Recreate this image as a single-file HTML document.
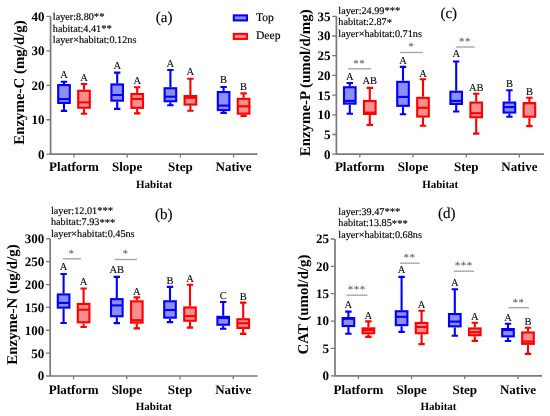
<!DOCTYPE html>
<html><head><meta charset="utf-8"><style>
html,body{margin:0;padding:0;background:#fff;}
svg{display:block;filter:blur(0.35px);}
.rg{stroke:#000;stroke-width:0.15px;}
.rl{stroke:#000;stroke-width:0.06px;}
</style></head><body>
<svg width="550" height="416" viewBox="0 0 550 416" font-family="'Liberation Serif', serif" fill="#000" text-rendering="geometricPrecision">
<rect width="550" height="416" fill="#fff"/>
<path d="M50.6 16.4V154.2H257.5" fill="none" stroke="#7a7a7a" stroke-width="1.7"/>
<text x="44.6" y="158.6" text-anchor="end" font-size="13" font-weight="bold">0</text>
<text x="44.6" y="124.15" text-anchor="end" font-size="13" font-weight="bold">10</text>
<text x="44.6" y="89.7" text-anchor="end" font-size="13" font-weight="bold">20</text>
<text x="44.6" y="55.25" text-anchor="end" font-size="13" font-weight="bold">30</text>
<text x="44.6" y="20.8" text-anchor="end" font-size="13" font-weight="bold">40</text>
<path d="M46.4 154.2H50.6M46.4 119.75H50.6M46.4 85.3H50.6M46.4 50.85H50.6M46.4 16.4H50.6M74 154.2v3.2M127.2 154.2v3.2M180.4 154.2v3.2M233.6 154.2v3.2" fill="none" stroke="#7a7a7a" stroke-width="1.3"/>
<text x="74" y="171.2" text-anchor="middle" font-size="13" font-weight="bold">Platform</text>
<text x="127.2" y="171.2" text-anchor="middle" font-size="13" font-weight="bold">Slope</text>
<text x="180.4" y="171.2" text-anchor="middle" font-size="13" font-weight="bold">Step</text>
<text x="233.6" y="171.2" text-anchor="middle" font-size="13" font-weight="bold">Native</text>
<text x="154.05" y="187.6" text-anchor="middle" font-size="11" font-weight="bold">Habitat</text>
<text transform="translate(24 82.5) rotate(-90)" text-anchor="middle" font-size="14.9" font-weight="bold">Enzyme-C (mg/d/g)</text>
<text x="52.8" y="20" font-size="10.2" class="rg">layer:8.80<tspan font-size="10.7" dy="0.2">**</tspan></text>
<text x="52.8" y="31.6" font-size="10.2" class="rg">habitat:4.41<tspan font-size="10.7" dy="0.2">**</tspan></text>
<text x="52.8" y="43.2" font-size="10.2" class="rg">layer×habitat:0.12ns</text>
<text x="155.8" y="22" font-size="15" class="rg">(a)</text>
<path d="M64 81.8V84M64 104V110.9M60.8 81.8H67.2M60.8 110.9H67.2" stroke="#0000ff" stroke-width="2.1" fill="none"/>
<rect x="58.2" y="85.05" width="11.6" height="17.9" fill="#8e8ef8" stroke="#0000ff" stroke-width="2.1"/>
<path d="M58.2 99.1H69.8" stroke="#0000ff" stroke-width="2.1"/>
<text x="64" y="77.9" text-anchor="middle" font-size="10.5" class="rl">A</text>
<path d="M84 84V89.7M84 108.8V113.8M80.8 84H87.2M80.8 113.8H87.2" stroke="#ff0000" stroke-width="2.1" fill="none"/>
<rect x="78.2" y="90.75" width="11.6" height="17" fill="#f88e8e" stroke="#ff0000" stroke-width="2.1"/>
<path d="M78.2 102.4H89.8" stroke="#ff0000" stroke-width="2.1"/>
<text x="84" y="81.1" text-anchor="middle" font-size="10.5" class="rl">A</text>
<path d="M117.2 72.6V83.4M117.2 101.7V108.9M114 72.6H120.4M114 108.9H120.4" stroke="#0000ff" stroke-width="2.1" fill="none"/>
<rect x="111.4" y="84.45" width="11.6" height="16.2" fill="#8e8ef8" stroke="#0000ff" stroke-width="2.1"/>
<path d="M111.4 95H123" stroke="#0000ff" stroke-width="2.1"/>
<text x="117.2" y="68.8" text-anchor="middle" font-size="10.5" class="rl">A</text>
<path d="M137.2 87.2V93M137.2 108.9V113.4M134 87.2H140.4M134 113.4H140.4" stroke="#ff0000" stroke-width="2.1" fill="none"/>
<rect x="131.4" y="94.05" width="11.6" height="13.8" fill="#f88e8e" stroke="#ff0000" stroke-width="2.1"/>
<path d="M131.4 99H143" stroke="#ff0000" stroke-width="2.1"/>
<text x="137.2" y="83.8" text-anchor="middle" font-size="10.5" class="rl">A</text>
<path d="M170.4 70V87.2M170.4 102.3V105.3M167.2 70H173.6M167.2 105.3H173.6" stroke="#0000ff" stroke-width="2.1" fill="none"/>
<rect x="164.6" y="88.25" width="11.6" height="13" fill="#8e8ef8" stroke="#0000ff" stroke-width="2.1"/>
<path d="M164.6 96.7H176.2" stroke="#0000ff" stroke-width="2.1"/>
<text x="170.4" y="66.6" text-anchor="middle" font-size="10.5" class="rl">A</text>
<path d="M190.4 78.8V95M190.4 105.6V110.7M187.2 78.8H193.6M187.2 110.7H193.6" stroke="#ff0000" stroke-width="2.1" fill="none"/>
<rect x="184.6" y="96.05" width="11.6" height="8.5" fill="#f88e8e" stroke="#ff0000" stroke-width="2.1"/>
<path d="M184.6 97.8H196.2" stroke="#ff0000" stroke-width="2.1"/>
<text x="190.4" y="75.4" text-anchor="middle" font-size="10.5" class="rl">A</text>
<path d="M223.6 87V91M223.6 111.1V112.9M220.4 87H226.8M220.4 112.9H226.8" stroke="#0000ff" stroke-width="2.1" fill="none"/>
<rect x="217.8" y="92.05" width="11.6" height="18" fill="#8e8ef8" stroke="#0000ff" stroke-width="2.1"/>
<path d="M217.8 105.6H229.4" stroke="#0000ff" stroke-width="2.1"/>
<text x="223.6" y="83.4" text-anchor="middle" font-size="10.5" class="rl">B</text>
<path d="M243.6 93.4V97.8M243.6 114.7V115.9M240.4 93.4H246.8M240.4 115.9H246.8" stroke="#ff0000" stroke-width="2.1" fill="none"/>
<rect x="237.8" y="98.85" width="11.6" height="14.8" fill="#f88e8e" stroke="#ff0000" stroke-width="2.1"/>
<path d="M237.8 106.3H249.4" stroke="#ff0000" stroke-width="2.1"/>
<text x="243.6" y="89.7" text-anchor="middle" font-size="10.5" class="rl">B</text>
<path d="M50.2 238.8V376H257.5" fill="none" stroke="#7a7a7a" stroke-width="1.7"/>
<text x="44.2" y="380.4" text-anchor="end" font-size="13" font-weight="bold">0</text>
<text x="44.2" y="357.53" text-anchor="end" font-size="13" font-weight="bold">50</text>
<text x="44.2" y="334.67" text-anchor="end" font-size="13" font-weight="bold">100</text>
<text x="44.2" y="311.8" text-anchor="end" font-size="13" font-weight="bold">150</text>
<text x="44.2" y="288.93" text-anchor="end" font-size="13" font-weight="bold">200</text>
<text x="44.2" y="266.07" text-anchor="end" font-size="13" font-weight="bold">250</text>
<text x="44.2" y="243.2" text-anchor="end" font-size="13" font-weight="bold">300</text>
<path d="M46 376H50.2M46 353.13H50.2M46 330.27H50.2M46 307.4H50.2M46 284.53H50.2M46 261.67H50.2M46 238.8H50.2M73.6 376v3.2M126.8 376v3.2M180 376v3.2M233.2 376v3.2" fill="none" stroke="#7a7a7a" stroke-width="1.3"/>
<text x="73.6" y="393.6" text-anchor="middle" font-size="13" font-weight="bold">Platform</text>
<text x="126.8" y="393.6" text-anchor="middle" font-size="13" font-weight="bold">Slope</text>
<text x="180" y="393.6" text-anchor="middle" font-size="13" font-weight="bold">Step</text>
<text x="233.2" y="393.6" text-anchor="middle" font-size="13" font-weight="bold">Native</text>
<text x="153.85" y="409.5" text-anchor="middle" font-size="11" font-weight="bold">Habitat</text>
<text transform="translate(17.2 304.5) rotate(-90)" text-anchor="middle" font-size="14.9" font-weight="bold">Enzyme-N (ug/d/g)</text>
<text x="51" y="213.8" font-size="10.2" class="rg">layer:12.01<tspan font-size="10.7" dy="0.2">***</tspan></text>
<text x="51" y="225.4" font-size="10.2" class="rg">habitat:7.93<tspan font-size="10.7" dy="0.2">***</tspan></text>
<text x="51" y="237" font-size="10.2" class="rg">layer×habitat:0.45ns</text>
<text x="155" y="218.6" font-size="15" class="rg">(b)</text>
<path d="M63.6 274V293.4M63.6 308.7V323M60.4 274H66.8M60.4 323H66.8" stroke="#0000ff" stroke-width="2.1" fill="none"/>
<rect x="57.8" y="294.45" width="11.6" height="13.2" fill="#8e8ef8" stroke="#0000ff" stroke-width="2.1"/>
<path d="M57.8 302.9H69.4" stroke="#0000ff" stroke-width="2.1"/>
<text x="63.6" y="270" text-anchor="middle" font-size="10.5" class="rl">A</text>
<path d="M83.6 288.5V302.9M83.6 323.4V327M80.4 288.5H86.8M80.4 327H86.8" stroke="#ff0000" stroke-width="2.1" fill="none"/>
<rect x="77.8" y="303.95" width="11.6" height="18.4" fill="#f88e8e" stroke="#ff0000" stroke-width="2.1"/>
<path d="M77.8 309.7H89.4" stroke="#ff0000" stroke-width="2.1"/>
<text x="83.6" y="285.1" text-anchor="middle" font-size="10.5" class="rl">A</text>
<path d="M116.8 276.9V298.1M116.8 317.3V323.1M113.6 276.9H120M113.6 323.1H120" stroke="#0000ff" stroke-width="2.1" fill="none"/>
<rect x="111" y="299.15" width="11.6" height="17.1" fill="#8e8ef8" stroke="#0000ff" stroke-width="2.1"/>
<path d="M111 305.4H122.6" stroke="#0000ff" stroke-width="2.1"/>
<text x="116.8" y="272.6" text-anchor="middle" font-size="10.5" class="rl">AB</text>
<path d="M136.8 297.4V300.3M136.8 323.7V328.4M133.6 297.4H140M133.6 328.4H140" stroke="#ff0000" stroke-width="2.1" fill="none"/>
<rect x="131" y="301.35" width="11.6" height="21.3" fill="#f88e8e" stroke="#ff0000" stroke-width="2.1"/>
<path d="M131 320.2H142.6" stroke="#ff0000" stroke-width="2.1"/>
<text x="136.8" y="294.6" text-anchor="middle" font-size="10.5" class="rl">A</text>
<path d="M170 286.9V300.2M170 318.7V322.1M166.8 286.9H173.2M166.8 322.1H173.2" stroke="#0000ff" stroke-width="2.1" fill="none"/>
<rect x="164.2" y="301.25" width="11.6" height="16.4" fill="#8e8ef8" stroke="#0000ff" stroke-width="2.1"/>
<path d="M164.2 310H175.8" stroke="#0000ff" stroke-width="2.1"/>
<text x="170" y="283.6" text-anchor="middle" font-size="10.5" class="rl">B</text>
<path d="M190 284.8V306.4M190 321.8V327.6M186.8 284.8H193.2M186.8 327.6H193.2" stroke="#ff0000" stroke-width="2.1" fill="none"/>
<rect x="184.2" y="307.45" width="11.6" height="13.3" fill="#f88e8e" stroke="#ff0000" stroke-width="2.1"/>
<path d="M184.2 316.1H195.8" stroke="#ff0000" stroke-width="2.1"/>
<text x="190" y="281.6" text-anchor="middle" font-size="10.5" class="rl">A</text>
<path d="M223.2 302V315.8M223.2 325.8V328.7M220 302H226.4M220 328.7H226.4" stroke="#0000ff" stroke-width="2.1" fill="none"/>
<rect x="217.4" y="316.85" width="11.6" height="7.9" fill="#8e8ef8" stroke="#0000ff" stroke-width="2.1"/>
<path d="M217.4 318H229" stroke="#0000ff" stroke-width="2.1"/>
<text x="223.2" y="299.2" text-anchor="middle" font-size="10.5" class="rl">C</text>
<path d="M243.2 302.6V318.2M243.2 329V333.9M240 302.6H246.4M240 333.9H246.4" stroke="#ff0000" stroke-width="2.1" fill="none"/>
<rect x="237.4" y="319.25" width="11.6" height="8.7" fill="#f88e8e" stroke="#ff0000" stroke-width="2.1"/>
<path d="M237.4 323.2H249" stroke="#ff0000" stroke-width="2.1"/>
<text x="243.2" y="299.6" text-anchor="middle" font-size="10.5" class="rl">B</text>
<path d="M62.6 258.8H81" stroke="#a8a8a8" stroke-width="1.4"/>
<text x="71.55" y="256.6" text-anchor="middle" font-size="11" fill="#4a4a4a" letter-spacing="0.5">*</text>
<path d="M114.5 259.5H137" stroke="#a8a8a8" stroke-width="1.4"/>
<text x="125.5" y="257.3" text-anchor="middle" font-size="11" fill="#4a4a4a" letter-spacing="0.5">*</text>
<path d="M336.4 16.3V154.2H544" fill="none" stroke="#7a7a7a" stroke-width="1.7"/>
<text x="330.4" y="158.6" text-anchor="end" font-size="13" font-weight="bold">0</text>
<text x="330.4" y="138.9" text-anchor="end" font-size="13" font-weight="bold">5</text>
<text x="330.4" y="119.2" text-anchor="end" font-size="13" font-weight="bold">10</text>
<text x="330.4" y="99.5" text-anchor="end" font-size="13" font-weight="bold">15</text>
<text x="330.4" y="79.8" text-anchor="end" font-size="13" font-weight="bold">20</text>
<text x="330.4" y="60.1" text-anchor="end" font-size="13" font-weight="bold">25</text>
<text x="330.4" y="40.4" text-anchor="end" font-size="13" font-weight="bold">30</text>
<text x="330.4" y="20.7" text-anchor="end" font-size="13" font-weight="bold">35</text>
<path d="M332.2 154.2H336.4M332.2 134.5H336.4M332.2 114.8H336.4M332.2 95.1H336.4M332.2 75.4H336.4M332.2 55.7H336.4M332.2 36H336.4M332.2 16.3H336.4M359.8 154.2v3.2M413 154.2v3.2M466.2 154.2v3.2M519.4 154.2v3.2" fill="none" stroke="#7a7a7a" stroke-width="1.3"/>
<text x="359.8" y="171.2" text-anchor="middle" font-size="13" font-weight="bold">Platform</text>
<text x="413" y="171.2" text-anchor="middle" font-size="13" font-weight="bold">Slope</text>
<text x="466.2" y="171.2" text-anchor="middle" font-size="13" font-weight="bold">Step</text>
<text x="519.4" y="171.2" text-anchor="middle" font-size="13" font-weight="bold">Native</text>
<text x="440.2" y="187.6" text-anchor="middle" font-size="11" font-weight="bold">Habitat</text>
<text transform="translate(310 82.8) rotate(-90)" text-anchor="middle" font-size="14.9" font-weight="bold">Enzyme-P (umol/d/mg)</text>
<text x="338.3" y="13.7" font-size="10.2" class="rg">layer:24.99<tspan font-size="10.7" dy="0.2">***</tspan></text>
<text x="338.3" y="25.3" font-size="10.2" class="rg">habitat:2.87<tspan font-size="10.7" dy="0.2">*</tspan></text>
<text x="338.3" y="36.9" font-size="10.2" class="rg">layer×habitat:0.71ns</text>
<text x="440.4" y="18" font-size="15" class="rg">(c)</text>
<path d="M349.8 83V86.2M349.8 104.7V113.8M346.6 83H353M346.6 113.8H353" stroke="#0000ff" stroke-width="2.1" fill="none"/>
<rect x="344" y="87.25" width="11.6" height="16.4" fill="#8e8ef8" stroke="#0000ff" stroke-width="2.1"/>
<path d="M344 100.9H355.6" stroke="#0000ff" stroke-width="2.1"/>
<text x="349.8" y="79.6" text-anchor="middle" font-size="10.5" class="rl">A</text>
<path d="M369.8 87.9V100M369.8 115V124.9M366.6 87.9H373M366.6 124.9H373" stroke="#ff0000" stroke-width="2.1" fill="none"/>
<rect x="364" y="101.05" width="11.6" height="12.9" fill="#f88e8e" stroke="#ff0000" stroke-width="2.1"/>
<path d="M364 112.6H375.6" stroke="#ff0000" stroke-width="2.1"/>
<text x="369.8" y="84.1" text-anchor="middle" font-size="10.5" class="rl">AB</text>
<path d="M403 66.9V80.8M403 106.9V114.3M399.8 66.9H406.2M399.8 114.3H406.2" stroke="#0000ff" stroke-width="2.1" fill="none"/>
<rect x="397.2" y="81.85" width="11.6" height="24" fill="#8e8ef8" stroke="#0000ff" stroke-width="2.1"/>
<path d="M397.2 96.9H408.8" stroke="#0000ff" stroke-width="2.1"/>
<text x="403" y="63.9" text-anchor="middle" font-size="10.5" class="rl">A</text>
<path d="M423 79.2V96.8M423 117.6V125.7M419.8 79.2H426.2M419.8 125.7H426.2" stroke="#ff0000" stroke-width="2.1" fill="none"/>
<rect x="417.2" y="97.85" width="11.6" height="18.7" fill="#f88e8e" stroke="#ff0000" stroke-width="2.1"/>
<path d="M417.2 107.8H428.8" stroke="#ff0000" stroke-width="2.1"/>
<text x="423" y="77" text-anchor="middle" font-size="10.5" class="rl">A</text>
<path d="M456.2 61.5V90.7M456.2 105V111.5M453 61.5H459.4M453 111.5H459.4" stroke="#0000ff" stroke-width="2.1" fill="none"/>
<rect x="450.4" y="91.75" width="11.6" height="12.2" fill="#8e8ef8" stroke="#0000ff" stroke-width="2.1"/>
<path d="M450.4 100.9H462" stroke="#0000ff" stroke-width="2.1"/>
<text x="456.2" y="57.3" text-anchor="middle" font-size="10.5" class="rl">A</text>
<path d="M476.2 93.8V101.5M476.2 118.3V133.6M473 93.8H479.4M473 133.6H479.4" stroke="#ff0000" stroke-width="2.1" fill="none"/>
<rect x="470.4" y="102.55" width="11.6" height="14.7" fill="#f88e8e" stroke="#ff0000" stroke-width="2.1"/>
<path d="M470.4 113.2H482" stroke="#ff0000" stroke-width="2.1"/>
<text x="476.2" y="90.6" text-anchor="middle" font-size="10.5" class="rl">AB</text>
<path d="M509.4 90.25V101.5M509.4 113.6V116.75M506.2 90.25H512.6M506.2 116.75H512.6" stroke="#0000ff" stroke-width="2.1" fill="none"/>
<rect x="503.6" y="102.55" width="11.6" height="10" fill="#8e8ef8" stroke="#0000ff" stroke-width="2.1"/>
<path d="M503.6 107.1H515.2" stroke="#0000ff" stroke-width="2.1"/>
<text x="509.4" y="87.1" text-anchor="middle" font-size="10.5" class="rl">B</text>
<path d="M529.4 97.75V102.1M529.4 117.75V126.1M526.2 97.75H532.6M526.2 126.1H532.6" stroke="#ff0000" stroke-width="2.1" fill="none"/>
<rect x="523.6" y="103.15" width="11.6" height="13.55" fill="#f88e8e" stroke="#ff0000" stroke-width="2.1"/>
<path d="M523.6 103.15H535.2" stroke="#ff0000" stroke-width="2.1"/>
<text x="529.4" y="94.5" text-anchor="middle" font-size="10.5" class="rl">B</text>
<path d="M348 68.8H371.2" stroke="#a8a8a8" stroke-width="1.4"/>
<text x="359.35" y="66.6" text-anchor="middle" font-size="11" fill="#4a4a4a" letter-spacing="0.5">**</text>
<path d="M400.1 52.5H422.8" stroke="#a8a8a8" stroke-width="1.4"/>
<text x="411.2" y="50.3" text-anchor="middle" font-size="11" fill="#4a4a4a" letter-spacing="0.5">*</text>
<path d="M455.8 47H474.8" stroke="#a8a8a8" stroke-width="1.4"/>
<text x="465.05" y="44.8" text-anchor="middle" font-size="11" fill="#4a4a4a" letter-spacing="0.5">**</text>
<path d="M335 239V375.8H542" fill="none" stroke="#7a7a7a" stroke-width="1.7"/>
<text x="329" y="380.2" text-anchor="end" font-size="13" font-weight="bold">0</text>
<text x="329" y="352.84" text-anchor="end" font-size="13" font-weight="bold">5</text>
<text x="329" y="325.48" text-anchor="end" font-size="13" font-weight="bold">10</text>
<text x="329" y="298.12" text-anchor="end" font-size="13" font-weight="bold">15</text>
<text x="329" y="270.76" text-anchor="end" font-size="13" font-weight="bold">20</text>
<text x="329" y="243.4" text-anchor="end" font-size="13" font-weight="bold">25</text>
<path d="M330.8 375.8H335M330.8 348.44H335M330.8 321.08H335M330.8 293.72H335M330.8 266.36H335M330.8 239H335M358.4 375.8v3.2M411.6 375.8v3.2M464.8 375.8v3.2M518 375.8v3.2" fill="none" stroke="#7a7a7a" stroke-width="1.3"/>
<text x="358.4" y="393.6" text-anchor="middle" font-size="13" font-weight="bold">Platform</text>
<text x="411.6" y="393.6" text-anchor="middle" font-size="13" font-weight="bold">Slope</text>
<text x="464.8" y="393.6" text-anchor="middle" font-size="13" font-weight="bold">Step</text>
<text x="518" y="393.6" text-anchor="middle" font-size="13" font-weight="bold">Native</text>
<text x="438.5" y="409.5" text-anchor="middle" font-size="11" font-weight="bold">Habitat</text>
<text transform="translate(308.4 304.5) rotate(-90)" text-anchor="middle" font-size="14.9" font-weight="bold">CAT (umol/d/g)</text>
<text x="338.3" y="214.7" font-size="10.2" class="rg">layer:39.47<tspan font-size="10.7" dy="0.2">***</tspan></text>
<text x="338.3" y="226.3" font-size="10.2" class="rg">habitat:13.85<tspan font-size="10.7" dy="0.2">***</tspan></text>
<text x="338.3" y="237.9" font-size="10.2" class="rg">layer×habitat:0.68ns</text>
<text x="438" y="218.4" font-size="15" class="rg">(d)</text>
<path d="M348.4 311.6V317M348.4 327.1V333.8M345.2 311.6H351.6M345.2 333.8H351.6" stroke="#0000ff" stroke-width="2.1" fill="none"/>
<rect x="342.6" y="318.05" width="11.6" height="8" fill="#8e8ef8" stroke="#0000ff" stroke-width="2.1"/>
<path d="M342.6 318.8H354.2" stroke="#0000ff" stroke-width="2.1"/>
<text x="348.4" y="307.8" text-anchor="middle" font-size="10.5" class="rl">A</text>
<path d="M368.4 321.4V327.3M368.4 334.3V336.9M365.2 321.4H371.6M365.2 336.9H371.6" stroke="#ff0000" stroke-width="2.1" fill="none"/>
<rect x="362.6" y="328.35" width="11.6" height="4.9" fill="#f88e8e" stroke="#ff0000" stroke-width="2.1"/>
<path d="M362.6 330.2H374.2" stroke="#ff0000" stroke-width="2.1"/>
<text x="368.4" y="318.6" text-anchor="middle" font-size="10.5" class="rl">A</text>
<path d="M401.6 276.9V310.2M401.6 326.2V331.9M398.4 276.9H404.8M398.4 331.9H404.8" stroke="#0000ff" stroke-width="2.1" fill="none"/>
<rect x="395.8" y="311.25" width="11.6" height="13.9" fill="#8e8ef8" stroke="#0000ff" stroke-width="2.1"/>
<path d="M395.8 316.8H407.4" stroke="#0000ff" stroke-width="2.1"/>
<text x="401.6" y="273.4" text-anchor="middle" font-size="10.5" class="rl">A</text>
<path d="M421.6 310.8V321.9M421.6 334.3V344.1M418.4 310.8H424.8M418.4 344.1H424.8" stroke="#ff0000" stroke-width="2.1" fill="none"/>
<rect x="415.8" y="322.95" width="11.6" height="10.3" fill="#f88e8e" stroke="#ff0000" stroke-width="2.1"/>
<path d="M415.8 327H427.4" stroke="#ff0000" stroke-width="2.1"/>
<text x="421.6" y="307.6" text-anchor="middle" font-size="10.5" class="rl">A</text>
<path d="M454.8 289.2V313M454.8 327.4V335.8M451.6 289.2H458M451.6 335.8H458" stroke="#0000ff" stroke-width="2.1" fill="none"/>
<rect x="449" y="314.05" width="11.6" height="12.3" fill="#8e8ef8" stroke="#0000ff" stroke-width="2.1"/>
<path d="M449 321.6H460.6" stroke="#0000ff" stroke-width="2.1"/>
<text x="454.8" y="285.7" text-anchor="middle" font-size="10.5" class="rl">A</text>
<path d="M474.8 322.8V327.4M474.8 336.3V340.9M471.6 322.8H478M471.6 340.9H478" stroke="#ff0000" stroke-width="2.1" fill="none"/>
<rect x="469" y="328.45" width="11.6" height="6.8" fill="#f88e8e" stroke="#ff0000" stroke-width="2.1"/>
<path d="M469 332.2H480.6" stroke="#ff0000" stroke-width="2.1"/>
<text x="474.8" y="319.6" text-anchor="middle" font-size="10.5" class="rl">A</text>
<path d="M508 323.8V328M508 337.4V341M504.8 323.8H511.2M504.8 341H511.2" stroke="#0000ff" stroke-width="2.1" fill="none"/>
<rect x="502.2" y="329.05" width="11.6" height="7.3" fill="#8e8ef8" stroke="#0000ff" stroke-width="2.1"/>
<path d="M502.2 330H513.8" stroke="#0000ff" stroke-width="2.1"/>
<text x="508" y="321.1" text-anchor="middle" font-size="10.5" class="rl">A</text>
<path d="M528 327.8V331.4M528 344.9V353.9M524.8 327.8H531.2M524.8 353.9H531.2" stroke="#ff0000" stroke-width="2.1" fill="none"/>
<rect x="522.2" y="332.45" width="11.6" height="11.4" fill="#f88e8e" stroke="#ff0000" stroke-width="2.1"/>
<path d="M522.2 341.5H533.8" stroke="#ff0000" stroke-width="2.1"/>
<text x="528" y="324.6" text-anchor="middle" font-size="10.5" class="rl">B</text>
<path d="M346.5 295.2H367.5" stroke="#a8a8a8" stroke-width="1.4"/>
<text x="356.75" y="293" text-anchor="middle" font-size="11" fill="#4a4a4a" letter-spacing="0.5">***</text>
<path d="M399.9 263.2H419.6" stroke="#a8a8a8" stroke-width="1.4"/>
<text x="409.5" y="261" text-anchor="middle" font-size="11" fill="#4a4a4a" letter-spacing="0.5">**</text>
<path d="M454 271.2H474.2" stroke="#a8a8a8" stroke-width="1.4"/>
<text x="463.85" y="269" text-anchor="middle" font-size="11" fill="#4a4a4a" letter-spacing="0.5">***</text>
<path d="M508.5 307.7H528.9" stroke="#a8a8a8" stroke-width="1.4"/>
<text x="518.45" y="305.5" text-anchor="middle" font-size="11" fill="#4a4a4a" letter-spacing="0.5">**</text>
<rect x="233.8" y="15.4" width="13.2" height="5" fill="#8e8ef8" stroke="#0000ff" stroke-width="2.1"/>
<rect x="233.8" y="33.9" width="13.2" height="5" fill="#f88e8e" stroke="#ff0000" stroke-width="2.1"/>
<text x="256" y="21" font-size="11.6" class="rg">Top</text>
<text x="256" y="39.3" font-size="11.6" class="rg">Deep</text>
</svg>
</body></html>
